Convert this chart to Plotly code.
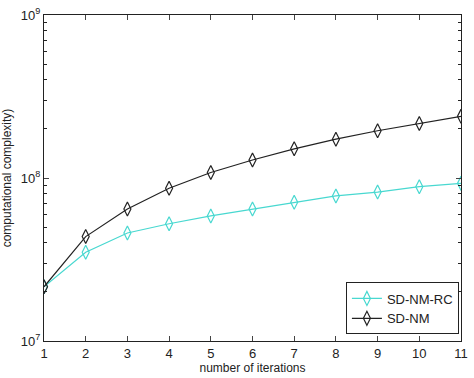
import plotly.graph_objects as go

iterations = [1, 2, 3, 4, 5, 6, 7, 8, 9, 10, 11]
sd_nm_rc = [2.15e7, 3.5e7, 4.6e7, 5.24e7, 5.85e7, 6.45e7, 7.1e7, 7.76e7, 8.2e7, 8.85e7, 9.27e7]
sd_nm = [2.15e7, 4.37e7, 6.45e7, 8.65e7, 1.08e8, 1.29e8, 1.51e8, 1.73e8, 1.95e8, 2.16e8, 2.39e8]
y_tickvals = [1e7, 1e8, 1e9]
y_ticktext = ["10<sup>7</sup>", "10<sup>8</sup>", "10<sup>9</sup>"]
minor_vals = [m * d for d in (1e7, 1e8) for m in range(2, 10)]

fig = go.Figure()
fig.add_trace(go.Scatter(x=iterations, y=sd_nm_rc, name="SD-NM-RC", mode="lines+markers",
                         line=dict(color="#48D8D0", width=1.2),
                         marker=dict(symbol="diamond-tall-open", size=10, color="#48D8D0", line=dict(width=1.2))))
fig.add_trace(go.Scatter(x=iterations, y=sd_nm, name="SD-NM", mode="lines+markers",
                         line=dict(color="#222222", width=1.2),
                         marker=dict(symbol="diamond-tall-open", size=10, color="#222222", line=dict(width=1.2))))

font = dict(family="Liberation Sans, Arial, sans-serif", size=12, color="#222222")
yaxis_common = dict(type="log", range=[7, 9], ticks="inside", ticklen=5,
                    minor=dict(tickmode="array", tickvals=minor_vals, ticks="inside", ticklen=3,
                               tickcolor="#222222", showgrid=False),
                    linecolor="#222222", linewidth=1, showgrid=False, zeroline=False)
fig.update_layout(
    width=474, height=378,
    margin=dict(l=44, r=6, t=13, b=34),
    paper_bgcolor="white", plot_bgcolor="white",
    font=font,
    showlegend=True,
    legend=dict(x=0.995, y=0.02, xanchor="right", yanchor="bottom",
                bordercolor="#222222", borderwidth=1, bgcolor="white",
                font=dict(size=13), tracegroupgap=0),
    xaxis=dict(range=[1, 11], tickvals=iterations, ticks="inside", ticklen=5,
               showline=True, mirror="ticks", linecolor="#222222", linewidth=1,
               showgrid=False, zeroline=False, tickfont=dict(size=13),
               ticklabeloverflow="allow",
               title=dict(text="number of iterations", font=dict(size=12), standoff=3)),
    yaxis=dict(**yaxis_common, tickvals=y_tickvals, ticktext=y_ticktext,
               showline=True, tickfont=dict(size=13),
               title=dict(text="computational complexity)", font=dict(size=12), standoff=6)),
    yaxis2=dict(**yaxis_common, tickvals=y_tickvals, overlaying="y", side="right",
                showline=True, showticklabels=False),
)
# invisible trace to activate the mirrored right axis
fig.add_trace(go.Scatter(x=[iterations[0]], y=[y_tickvals[0]], yaxis="y2", mode="markers",
                         marker=dict(opacity=0), showlegend=False, hoverinfo="skip"))
fig.write_html("out.html", post_script="document.body.style.margin='0';",
               config={"displayModeBar": False})
